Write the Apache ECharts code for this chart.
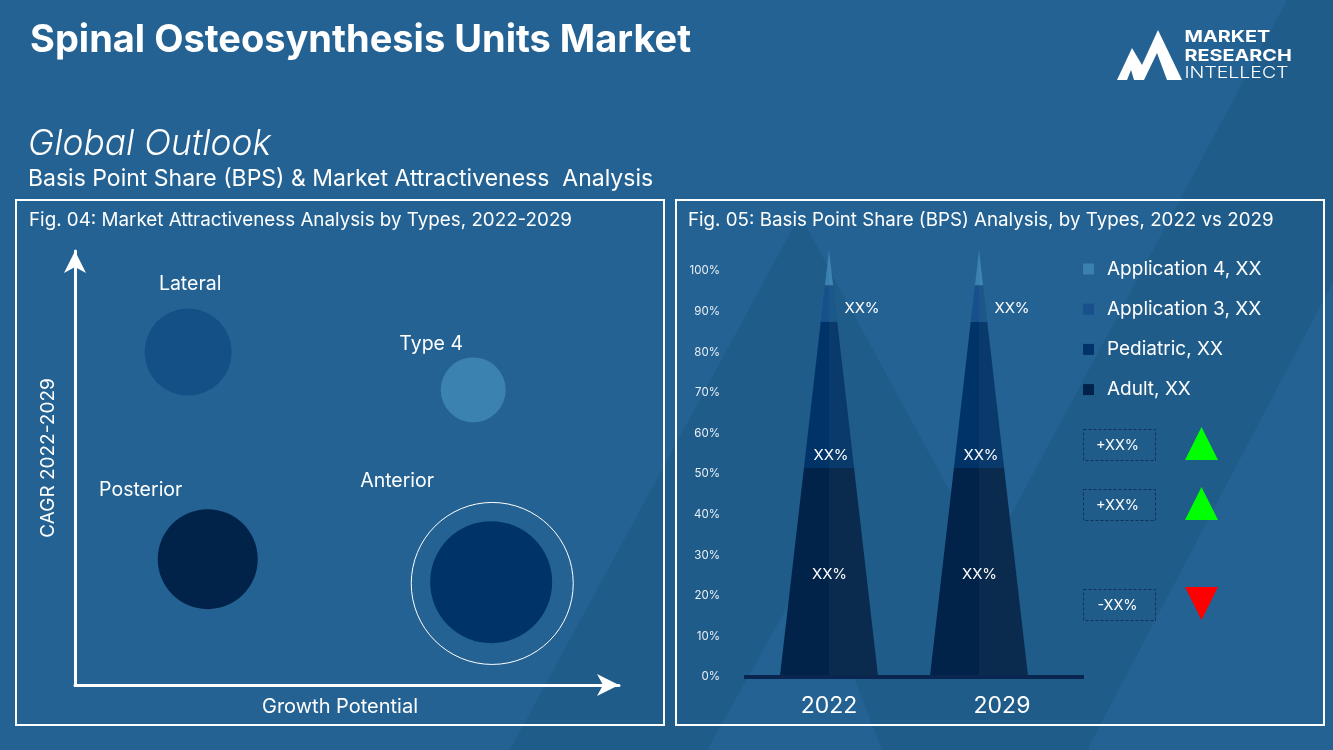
<!DOCTYPE html>
<html><head><meta charset="utf-8">
<style>html,body{margin:0;padding:0;background:#236292}#c{width:1333px;height:750px}</style>
<script src="https://cdn.jsdelivr.net/npm/echarts@6/dist/echarts.min.js"></script>
</head><body><div id="c"></div>
<script>
// ---- data ----
const categories = ['2022', '2029'];
const adultShare = [51, 51];
const pediatricShare = [36, 36];
const application3Share = [9, 9];
const application4Share = [8.7, 8.7];
const shareTicks = [0, 10, 20, 30, 40, 50, 60, 70, 80, 90, 100];
const bubbleNames = ['Lateral', 'Type 4', 'Posterior', 'Anterior'];
const bubbleGrowth = [20.8, 73.2, 24.4, 76.5];
const bubbleCagr = [76.7, 68, 29, 23.7];
const bubbleSize = [87, 65, 100, 122];
const changeLabels = ['+XX%', '+XX%', '-XX%'];

// ---- style ----
const FONT = 'Inter';
const bubbleColors = ['#144f85', '#3c82b0', '#012249', '#003468'];
const bubbleLabelOffsets = [[2, -68], [-42, -46], [-67, -69], [-94, -101]];
const arrowPath = 'path://M10,0 L21,22 L10,16 L-1,22 Z';
const bands = [
  {name: 'Adult, XX', vals: adultShare, left: '#012249', right: '#0b2b4e', lab: 'XX%', labAt: 24.7, dx: 0.5},
  {name: 'Pediatric, XX', vals: pediatricShare, left: '#003468', right: '#0a3a6b', lab: 'XX%', labAt: 54, dx: 2},
  {name: 'Application 3, XX', vals: application3Share, left: '#17508a', right: '#1b5789', lab: 'XX%', labAt: 90.2, dx: 33},
  {name: 'Application 4, XX', vals: application4Share, left: '#3a80b0', right: '#3f85b2', lab: null}
];
const legendOrder = ['Application 4, XX', 'Application 3, XX', 'Pediatric, XX', 'Adult, XX'];

const apex = categories.map((_, i) => bands.reduce((s, b) => s + b.vals[i], 0));

function renderBand(band) {
  return function (params, api) {
    const i = api.value(0), lo = api.value(1), hi = api.value(2);
    const band0 = api.size([1, 0])[0], half = band0 * 0.326;
    const cx = api.coord([i, 0])[0];
    const yLo = api.coord([i, lo])[1], yHi = api.coord([i, hi])[1];
    const wLo = half * (1 - lo / apex[i]), wHi = half * (1 - hi / apex[i]);
    const kids = [
      {type: 'polygon', shape: {points: [[cx - wLo, yLo], [cx, yLo], [cx, yHi], [cx - wHi, yHi]]}, style: {fill: band.left}},
      {type: 'polygon', shape: {points: [[cx, yLo], [cx + wLo, yLo], [cx + wHi, yHi], [cx, yHi]]}, style: {fill: band.right}}
    ];
    if (band.lab) kids.push({type: 'text', z2: 50, style: {
      text: band.lab, x: cx + band.dx, y: api.coord([i, band.labAt])[1],
      fill: '#fff', font: '400 15px ' + FONT, textAlign: 'center', textVerticalAlign: 'middle'}});
    return {type: 'group', children: kids};
  };
}
let acc = categories.map(() => 0);
const bandSeries = bands.map(b => {
  const data = categories.map((_, i) => { const r = [i, acc[i], acc[i] + b.vals[i]]; acc[i] += b.vals[i]; return r; });
  return {type: 'custom', name: b.name, xAxisIndex: 1, yAxisIndex: 1, itemStyle: {color: b.left},
    renderItem: renderBand(b), encode: {x: 0, y: [1, 2]}, data, z: 5};
});

const DARK = '#205c8a';
const bgShapes = [
  {pts: [[800, 215], [510, 750], [1090, 750]], fill: DARK},
  {pts: [[1287, 0], [1333, 0], [1333, 282], [1087, 750], [885, 750]], fill: DARK},
  {pts: [[826, 538], [707, 750], [882, 750], [855, 680]], fill: '#236292'}
];
const boxes = [429, 489, 589];
const tris = [
  {pts: [[1201.5, 427], [1218, 460], [1185, 460]], fill: '#00ff00'},
  {pts: [[1201.5, 487], [1218, 520], [1185, 520]], fill: '#00ff00'},
  {pts: [[1185, 587], [1218, 587], [1201.5, 620]], fill: '#ff0000'}
];
const logoText = (text, y, weight, sx) => ({type: 'text', x: 1184.5, y, scaleX: sx,
  style: {text, x: 0, y: 0, fill: '#fff', font: weight + ' 16.5px ' + FONT, textVerticalAlign: 'middle'}});
const graphic = [
  ...bgShapes.map(s => ({type: 'polygon', z: -10, silent: true, shape: {points: s.pts}, style: {fill: s.fill}})),
  {type: 'rect', z: -5, shape: {x: 16, y: 200, width: 648, height: 525}, style: {fill: 'none', stroke: '#fff', lineWidth: 2}},
  {type: 'rect', z: -5, shape: {x: 676, y: 200, width: 648, height: 525}, style: {fill: 'none', stroke: '#fff', lineWidth: 2}},
  {type: 'rect', z: 20, shape: {x: 744, y: 675, width: 340, height: 4}, style: {fill: '#0a2650'}},
  ...boxes.map((y, i) => ({type: 'rect', shape: {x: 1083.5, y: y + .5, width: 72, height: 31},
    style: {fill: 'none', stroke: '#12305c', lineWidth: 1, lineDash: [3, 2]}})),
  ...boxes.map((y, i) => ({type: 'text', style: {text: changeLabels[i], x: 1117.5, y: y + 17,
    fill: '#fff', font: '400 14.5px ' + FONT, textAlign: 'center', textVerticalAlign: 'middle'}})),
  ...tris.map(t => ({type: 'polygon', shape: {points: t.pts}, style: {fill: t.fill}})),
  {type: 'polygon', shape: {points: [[1117, 80], [1132, 48], [1142, 65], [1158, 30], [1182, 80], [1167, 80], [1157, 53], [1144, 80], [1134, 80], [1131, 70], [1127, 80]]}, style: {fill: '#fff'}},
  logoText('MARKET', 37, 700, 1.2),
  logoText('RESEARCH', 56, 700, 1.2),
  logoText('INTELLECT', 73.5, 300, 1.18)
];

const chart = echarts.init(document.getElementById('c'), null, {renderer: 'canvas'});
const ttl = (text, left, top, size, extra) => ({text, left, top, padding: 0,
  textStyle: Object.assign({color: '#fff', fontFamily: FONT, fontSize: size, fontWeight: 400}, extra || {})});
chart.setOption({
  animation: false,
  backgroundColor: '#236292',
  textStyle: {fontFamily: FONT},
  title: [
    ttl('Spinal Osteosynthesis Units Market', 30, 22, 38, {fontWeight: 700}),
    ttl('Global Outlook', 28, 127, 35.3, {fontStyle: 'italic', fontWeight: 300}),
    ttl('Basis Point Share (BPS) & Market Attractiveness  Analysis', 28, 168, 23),
    ttl('Fig. 04: Market Attractiveness Analysis by Types, 2022-2029', 29, 211, 18.8),
    ttl('Fig. 05: Basis Point Share (BPS) Analysis, by Types, 2022 vs 2029', 688, 211, 18.75)
  ],
  legend: {
    orient: 'vertical', left: 1083, top: 258, padding: 0, itemGap: 18.2, itemWidth: 11, itemHeight: 11, icon: 'rect',
    selectedMode: false, data: legendOrder,
    textStyle: {color: '#fff', fontSize: 19, fontFamily: FONT, lineHeight: 22, padding: [0, 0, 0, 8]}
  },
  graphic,
  grid: [
    {left: 75, top: 251, width: 544, height: 434},
    {left: 754, top: 248.7, width: 300, height: 426.3}
  ],
  xAxis: [
    {type: 'value', gridIndex: 0, min: 0, max: 100, splitLine: {show: false}, axisTick: {show: false}, axisLabel: {show: false},
      axisLine: {show: true, onZero: false, lineStyle: {color: '#fff', width: 3}, symbol: ['none', arrowPath], symbolSize: [23, 22], symbolOffset: [0, -11]},
      name: 'Growth Potential', nameLocation: 'middle', nameGap: 12,
      nameTextStyle: {color: '#fff', fontSize: 20, fontFamily: FONT, padding: [0, 14, 0, 0]}},
    {type: 'category', gridIndex: 1, data: categories.map((c, i) => i === 0 ? c : {value: c, textStyle: {padding: [0, 0, 0, 46]}}),
      axisLine: {show: false}, axisTick: {show: false},
      axisLabel: {color: '#fff', fontSize: 23, fontFamily: FONT, margin: 20}}
  ],
  yAxis: [
    {type: 'value', gridIndex: 0, min: 0, max: 100, splitLine: {show: false}, axisTick: {show: false}, axisLabel: {show: false},
      axisLine: {show: true, onZero: false, lineStyle: {color: '#fff', width: 3}, symbol: ['none', arrowPath], symbolSize: [23, 22], symbolOffset: [0, -11]},
      name: 'CAGR 2022-2029', nameLocation: 'middle', nameGap: 17,
      nameTextStyle: {color: '#fff', fontSize: 19, fontFamily: FONT, padding: [0, 0, 0, 20]}},
    {type: 'value', gridIndex: 1, min: 0, max: 105, splitLine: {show: false}, axisTick: {show: false}, axisLine: {show: false},
      axisLabel: {customValues: shareTicks, formatter: v => v + '%', color: '#e9eff5', fontSize: 11.5, fontFamily: FONT, margin: 34, verticalAlign: 'top', lineHeight: 4}}
  ],
  series: [
    {type: 'scatter', xAxisIndex: 0, yAxisIndex: 0, z: 5,
      data: bubbleNames.map((n, i) => ({
        name: n, value: [bubbleGrowth[i], bubbleCagr[i], bubbleSize[i]], symbolSize: bubbleSize[i],
        itemStyle: {color: bubbleColors[i], opacity: 1},
        label: {show: true, position: 'inside', formatter: '{b}', color: '#fff', fontSize: 19.5, fontFamily: FONT, offset: bubbleLabelOffsets[i]}
      }))},
    {type: 'scatter', xAxisIndex: 0, yAxisIndex: 0, z: 4, silent: true,
      data: [{value: [bubbleGrowth[3] + 0.2, bubbleCagr[3] - 0.3], symbolSize: 162,
        itemStyle: {color: 'rgba(0,0,0,0)', borderColor: '#fff', borderWidth: 1, opacity: 1}}]},
    ...bandSeries
  ]
});
</script></body></html>
